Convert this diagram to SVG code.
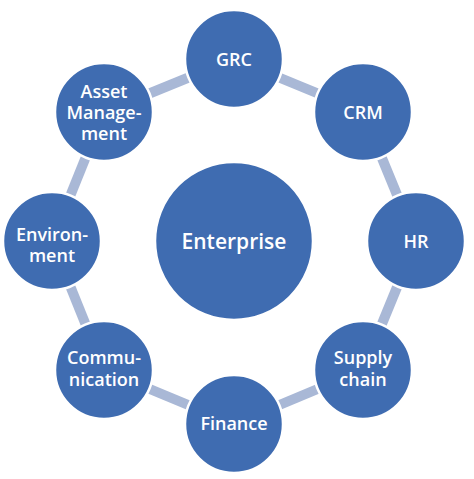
<svg xmlns="http://www.w3.org/2000/svg" width="474" height="479" viewBox="0 0 474 479">
<style>
.n{fill:#3f6cb1;stroke:#ffffff;stroke-width:2.5}
.t{fill:#ffffff;font-family:"Open Sans","Noto Sans",sans-serif;font-size:18px;font-weight:600;text-anchor:middle}
.big{font-size:21px}
.c{stroke:#a9b8d6;stroke-width:10;fill:none}
</style>
<rect width="474" height="479" fill="#ffffff"/>
<g id="connectors">
<line class="c" x1="234" y1="59" x2="363" y2="112"/>
<line class="c" x1="363" y1="112" x2="416" y2="241"/>
<line class="c" x1="416" y1="241" x2="363" y2="370"/>
<line class="c" x1="363" y1="370" x2="234" y2="424"/>
<line class="c" x1="234" y1="424" x2="104" y2="370"/>
<line class="c" x1="104" y1="370" x2="52" y2="241"/>
<line class="c" x1="52" y1="241" x2="104" y2="112"/>
<line class="c" x1="104" y1="112" x2="234" y2="59"/>
</g>
<g id="enterprise"><circle class="n" cx="234" cy="241" r="79"/><text class="t big" x="234" y="249">Enterprise</text></g>
<g id="grc"><circle class="n" cx="234" cy="59" r="49"/><text class="t" x="234" y="66">GRC</text></g>
<g id="crm"><circle class="n" cx="363" cy="112" r="49"/><text class="t" x="363" y="119">CRM</text></g>
<g id="hr"><circle class="n" cx="416" cy="241" r="49"/><text class="t" x="416" y="248">HR</text></g>
<g id="supply"><circle class="n" cx="363" cy="370" r="49"/><text class="t" x="363" y="364">Supply</text><text class="t" x="363" y="386">chain</text></g>
<g id="finance"><circle class="n" cx="234" cy="424" r="49"/><text class="t" x="234" y="430">Finance</text></g>
<g id="communication"><circle class="n" cx="104" cy="370" r="49"/><text class="t" x="104" y="364">Commu-</text><text class="t" x="104" y="386">nication</text></g>
<g id="environment"><circle class="n" cx="52" cy="241" r="49"/><text class="t" x="52" y="241">Environ-</text><text class="t" x="52" y="262">ment</text></g>
<g id="asset"><circle class="n" cx="104" cy="112" r="49"/><text class="t" x="104" y="98">Asset</text><text class="t" x="104" y="119">Manage-</text><text class="t" x="104" y="140">ment</text></g>
</svg>
